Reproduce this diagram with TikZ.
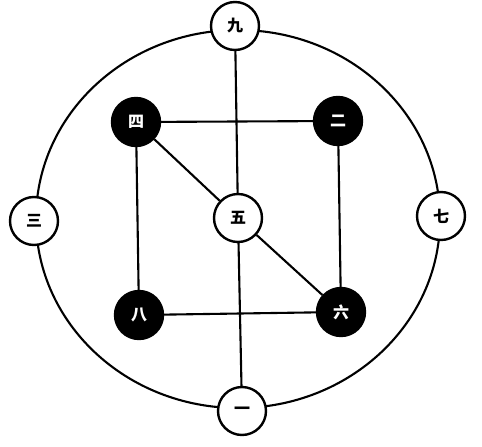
\documentclass[tikz,border=0pt]{standalone}
\usepackage{fontspec}
\newfontfamily\cjk{Noto Sans CJK SC}
\begin{document}
\begin{tikzpicture}[x=1pt,y=-1pt,
  whitenode/.style={circle,draw=black,fill=white,line width=2.4pt,minimum size=48pt,inner sep=0pt,font=\cjk\bfseries\fontsize{16}{16}\selectfont},
  blacknode/.style={circle,draw=black,fill=black,text=white,line width=2.4pt,minimum size=48pt,inner sep=0pt,font=\cjk\bfseries\fontsize{16}{16}\selectfont},
  link/.style={line width=2.1pt,draw=black}]
\useasboundingbox (0,0) rectangle (482,447);
\draw[link] (238,219) ellipse [x radius=202, y radius=189];
\node[whitenode] (n9) at (235,26) {九};
\node[whitenode] (n3) at (34,221) {三};
\node[whitenode] (n7) at (441,216) {七};
\node[whitenode] (n1) at (242,411) {一};
\node[whitenode] (n5) at (238,218) {五};
\node[blacknode] (n4) at (136,122) {四};
\node[blacknode] (n2) at (338,121) {二};
\node[blacknode] (n8) at (139,315) {八};
\node[blacknode] (n6) at (341,312) {六};
\draw[link] (n4) -- (n2);
\draw[link] (n8) -- (n6);
\draw[link] (n4) -- (n8);
\draw[link] (n2) -- (n6);
\draw[link] (n4) -- (n5);
\draw[link] (n5) -- (n6);
\draw[link] (n9) -- (n5);
\draw[link] (n5) -- (n1);
\end{tikzpicture}
\end{document}
